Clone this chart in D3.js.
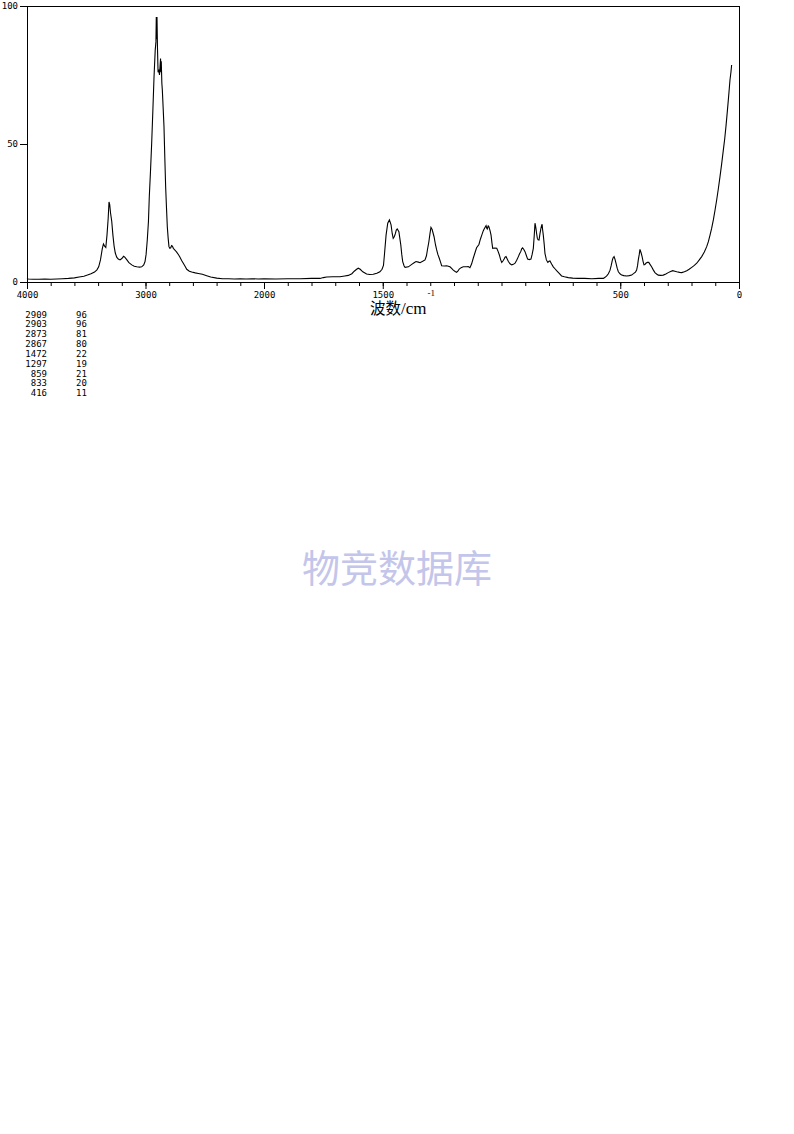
<!DOCTYPE html>
<html>
<head>
<meta charset="utf-8">
<script src="https://cdn.jsdelivr.net/npm/d3@7"></script>
<style>
  html, body { margin: 0; padding: 0; background: #fff; }
  svg { display: block; }
</style>
</head>
<body>
<svg id="chart" width="794" height="1134"></svg>
<script>
// ---- data ----
const spectrum = [
  [4000,1.3],[3990,1.1],[3950,1.0],[3900,1.0],[3850,1.1],[3800,1.0],[3750,1.1],[3700,1.2],[3650,1.3],[3600,1.5],
  [3560,1.8],[3520,2.1],[3490,2.5],[3460,3.0],[3430,3.6],[3410,4.4],[3395,5.5],[3380,8],[3365,12],[3355,13.8],
  [3345,13],[3335,12.5],[3325,17],[3315,23],[3308,29],[3302,28],[3295,25],[3285,22],[3275,17],[3265,13],
  [3255,10.5],[3243,9],[3230,8.3],[3215,8],[3200,8.5],[3185,9.3],[3175,9],[3160,8.2],[3140,7],[3116,6.2],
  [3095,5.7],[3074,5.5],[3050,5.4],[3032,5.5],[3015,6.2],[3004,7.4],[2995,10],[2985,15.2],[2975,22],[2968,30.9],
  [2958,40],[2948,50.2],[2938,62],[2928,74.4],[2918,84],[2912,87],[2909,96],[2906,88],[2903,96],[2899,85],
  [2894,76],[2888,77],[2882,75],[2876,79],[2873,81],[2870,76],[2867,80],[2862,72],[2858,69.6],[2851,63],
  [2844,56.3],[2837,45],[2830,34.5],[2823,27],[2816,20],[2809,16],[2802,12.8],[2795,12.2],[2787,12.4],[2780,13.2],
  [2773,13],[2765,12.2],[2750,11.5],[2737,10.8],[2720,9.8],[2709,9.0],[2695,7.8],[2681,6.8],[2665,5.6],[2652,4.6],
  [2630,3.9],[2610,3.6],[2580,3.3],[2554,3.1],[2520,2.8],[2484,2.3],[2450,1.8],[2399,1.4],[2350,1.2],[2300,1.2],
  [2250,1.1],[2200,1.2],[2150,1.1],[2100,1.2],[2050,1.1],[2000,1.2],[1950,1.1],[1900,1.2],[1848,1.2],[1800,1.3],
  [1764,1.3],[1750,1.6],[1736,1.8],[1710,1.9],[1680,1.9],[1660,2.2],[1645,2.4],[1630,3.0],[1620,3.9],[1610,4.6],
  [1603,5.0],[1595,4.6],[1584,3.7],[1568,2.9],[1555,2.7],[1540,2.8],[1525,3.2],[1512,3.7],[1503,4.6],[1497,6],
  [1493,9.8],[1486,17],[1479,21.3],[1472,22.5],[1468,21.5],[1465,20.7],[1460,17.5],[1456,15.8],[1451,16.5],[1447,17.5],
  [1443,18.8],[1439,19.2],[1432,18.2],[1428,15.8],[1424,13.4],[1420,10],[1416,7.4],[1410,5.8],[1406,5.3],[1392,5.5],
  [1378,6.4],[1368,7.0],[1360,7.4],[1350,7.2],[1343,7.0],[1330,7.6],[1322,8.0],[1316,9.5],[1312,11.6],[1306,14.5],
  [1301,17.6],[1297,19.8],[1292,19],[1284,16.4],[1278,13.5],[1273,11.6],[1268,10],[1262,8.6],[1256,7],[1252,5.9],
  [1240,5.8],[1231,5.9],[1217,5.5],[1210,4.9],[1203,4.3],[1195,3.8],[1189,3.5],[1183,4.0],[1178,4.7],[1170,5.2],
  [1161,5.5],[1147,5.5],[1140,5.6],[1133,5.2],[1126,6.5],[1119,8.6],[1112,10.5],[1105,12.4],[1095,13.6],[1089,15.5],
  [1083,17],[1077,18.5],[1072,19.4],[1065,20.4],[1062,19.5],[1060,19.2],[1056,20.3],[1053,20],[1048,18.5],[1044,17],
  [1040,14],[1037,12.2],[1028,12.3],[1020,12.2],[1014,11],[1009,9.8],[1004,8.2],[999,7.1],[994,7.6],[989,8.3],
  [985,9],[981,9.2],[976,8.3],[971,7.4],[964,6.6],[957,6.2],[950,6.4],[943,6.8],[936,7.9],[929,9.2],
  [924,10.2],[919,11],[915,12],[911,12.4],[906,11.8],[901,11],[895,9.5],[890,8.3],[883,8.1],[876,8.3],
  [871,10],[866,12.2],[862,17],[859,21.3],[857,20.5],[855,19.4],[852,17.5],[849,15.8],[846,15.3],[842,15.2],
  [838,17.5],[834,19.4],[831,20.5],[829,20.9],[827,19],[824,17],[820,13.5],[817,10.4],[811,8],[805,7.1],
  [800,7.5],[796,7.6],[789,6.5],[782,5.5],[775,4.8],[768,4.1],[758,3.2],[747,2.2],[735,1.9],[719,1.6],
  [700,1.4],[677,1.3],[650,1.3],[620,1.2],[590,1.3],[571,1.3],[564,1.7],[557,2.2],[550,3.0],[543,4.3],
  [538,6.0],[533,8],[530,8.8],[526,9.2],[522,8.2],[518,6.8],[513,5],[508,3.7],[500,2.9],[494,2.5],
  [485,2.3],[473,2.2],[462,2.3],[452,2.5],[443,3.1],[436,3.6],[431,4.3],[427,6],[424,8],[420,10],
  [417,11.8],[412,10.5],[408,9.2],[404,7.5],[400,6.2],[396,6.3],[392,6.8],[386,7.1],[380,7.1],[374,6.3],
  [368,5.5],[361,4.4],[354,3.4],[347,2.9],[340,2.5],[330,2.4],[319,2.5],[308,2.9],[298,3.4],[288,3.8],
  [279,4.1],[270,3.9],[262,3.7],[250,3.5],[241,3.4],[230,3.7],[220,4.1],[210,4.6],[199,5.3],[188,6.0],
  [178,6.8],[168,7.9],[157,9.2],[146,10.9],[136,12.8],[129,14.6],[122,17],[115,19.5],[108,22.5],[101,26],
  [94,29.7],[87,33.8],[80,38.2],[73,42.8],[66,47.8],[60,52],[55,56.3],[50,61],[45,65.9],[41,70],
  [38,73.2],[34,76],[31,78.6]
];
const wavenumbers = spectrum.map(d => d[0]);
const intensities = spectrum.map(d => d[1]);

const peakWavenumbers = [2909, 2903, 2873, 2867, 1472, 1297, 859, 833, 416];
const peakIntensities = [96, 96, 81, 80, 22, 19, 21, 20, 11];

const xLabelTicks = [4000, 3000, 2000, 1500, 500, 0];
const xMinorHigh = d3.range(4000, 1999, -200);
const xMinorLow = d3.range(2000, -1, -100);
const yTicks = [0, 50, 100];

const xTitle = "波数/cm";
const xTitleSup = "-1";
const watermark = "物竞数据库";

// ---- drawing ----
const svg = d3.select("#chart");
const plotLeft = 27, plotRight = 739, plotTop = 6, plotBottom = 282;

const x = d3.scaleLinear().domain([4000, 2000, 0]).range([plotLeft, 264, plotRight]);
const y = d3.scaleLinear().domain([0, 100]).range([plotBottom, plotTop]);

const tickFont = "'DejaVu Sans Mono', monospace";
const fmt = d3.format("d");

// frame (top & right)
svg.append("line").attr("x1", plotLeft).attr("x2", plotRight).attr("y1", plotTop + 0.5).attr("y2", plotTop + 0.5)
  .attr("stroke", "#000").attr("stroke-width", 1);
svg.append("line").attr("x1", plotRight + 0.5).attr("x2", plotRight + 0.5).attr("y1", plotTop).attr("y2", plotBottom)
  .attr("stroke", "#000").attr("stroke-width", 1);

// minor x ticks
const minorVals = Array.from(new Set(xMinorHigh.concat(xMinorLow)));
const gMinor = svg.append("g").attr("transform", `translate(0,${plotBottom})`)
  .call(d3.axisBottom(x).tickValues(minorVals).tickSize(4).tickFormat(""));
gMinor.select(".domain").remove();

// major x ticks with labels
const gX = svg.append("g").attr("transform", `translate(0,${plotBottom})`)
  .call(d3.axisBottom(x).tickValues(xLabelTicks).tickFormat(fmt).tickSize(7).tickPadding(3).tickSizeOuter(0));
gX.selectAll("text").attr("font-family", tickFont).attr("font-size", 9).attr("fill", "#000");

// y axis
const gY = svg.append("g").attr("transform", `translate(${plotLeft},0)`)
  .call(d3.axisLeft(y).tickValues(yTicks).tickFormat(fmt).tickSize(7).tickPadding(2).tickSizeOuter(0));
gY.selectAll("text").attr("font-family", tickFont).attr("font-size", 9).attr("fill", "#000");

svg.selectAll(".domain, .tick line").attr("stroke", "#000").attr("stroke-width", 1);

// spectrum line
const line = d3.line()
  .x((d, i) => x(wavenumbers[i]))
  .y((d, i) => y(intensities[i]));
svg.append("path")
  .datum(wavenumbers)
  .attr("d", line)
  .attr("fill", "none")
  .attr("stroke", "#000")
  .attr("stroke-width", 1.1)
  .attr("stroke-linejoin", "miter");

// x axis title
const title = svg.append("text").attr("x", 370).attr("y", 313.5).attr("fill", "#000");
title.append("tspan").attr("font-family", "'Noto Sans CJK SC'").attr("font-size", 15.5).text(xTitle.slice(0, 2));
title.append("tspan").attr("font-family", "'Liberation Serif', serif").attr("font-size", 17).text(xTitle.slice(2));
title.append("tspan").attr("font-family", "'Liberation Serif', serif").attr("font-size", 9)
  .attr("dy", -18).attr("dx", 1).text(xTitleSup);

// peak table
const table = svg.append("g").attr("font-family", tickFont).attr("font-size", 9).attr("fill", "#000");
peakWavenumbers.forEach((w, i) => {
  const yy = 317.5 + i * 9.84;
  table.append("text").attr("x", 47).attr("y", yy).attr("text-anchor", "end").text(w);
  table.append("text").attr("x", 76).attr("y", yy).attr("text-anchor", "start").text(peakIntensities[i]);
});

// watermark
svg.append("text")
  .attr("x", 397).attr("y", 582)
  .attr("text-anchor", "middle")
  .attr("font-family", "'Noto Sans CJK SC'")
  .attr("font-size", 38)
  .attr("fill", "#c4c5ea")
  .text(watermark);
</script>
</body>
</html>
